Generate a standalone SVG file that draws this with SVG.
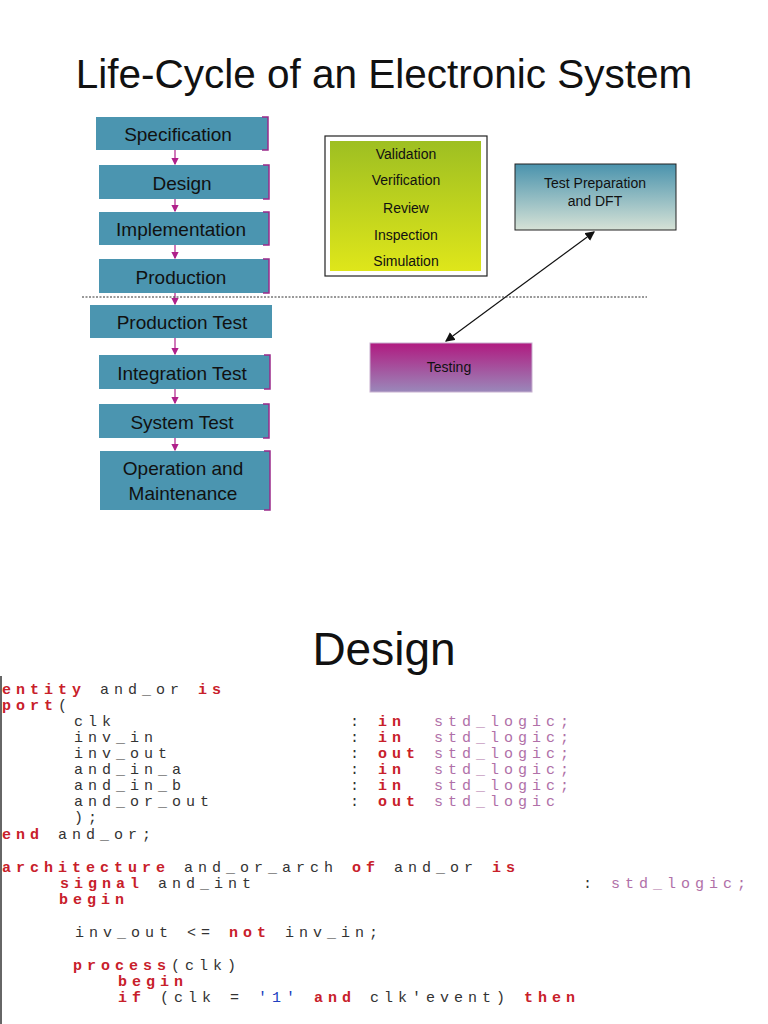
<svg xmlns="http://www.w3.org/2000/svg" width="768" height="1024" viewBox="0 0 768 1024">
<defs>
<style>
.t{font-family:"Liberation Sans",Arial,sans-serif;fill:#111}
.nb{fill:#4b95b0}
.br{fill:none;stroke:#9a2a8a;stroke-width:1.5}
.cn{stroke:#b0208a;stroke-width:1.2;fill:none}
.c{font-family:"Liberation Mono","Courier New",monospace;font-size:15px;letter-spacing:5px;fill:#333;white-space:pre}
.k{fill:#c8202a;font-weight:bold}
.p{fill:#b070a8}
</style>
<marker id="pa" markerWidth="6" markerHeight="6" refX="5" refY="3" orient="auto"><path d="M0,0L6,3L0,6z" fill="#b0208a"/></marker>
<marker id="ba" markerWidth="8" markerHeight="8" refX="7" refY="4" orient="auto-start-reverse"><path d="M0,0L8,4L0,8z" fill="#111"/></marker>
<linearGradient id="gg" x1="0" y1="0" x2="0" y2="1"><stop offset="0" stop-color="#9ebf22"/><stop offset="1" stop-color="#dfe61a"/></linearGradient>
<linearGradient id="gb" x1="0" y1="0" x2="0" y2="1"><stop offset="0" stop-color="#4a93ad"/><stop offset="1" stop-color="#d6e2d6"/></linearGradient>
<linearGradient id="gp" x1="0" y1="0" x2="0" y2="1"><stop offset="0" stop-color="#b01a80"/><stop offset="1" stop-color="#9a88ba"/></linearGradient>
</defs>
<rect width="768" height="1024" fill="#fff"/>
<text class="t" x="384" y="88" font-size="40.5" text-anchor="middle">Life-Cycle of an Electronic System</text>
<g id="n-spec"><rect class="nb" x="96" y="117" width="172" height="33"/><path class="br" d="M262,117H268V150H262"/><text class="t" x="178" y="141" font-size="19" text-anchor="middle">Specification</text></g>
<g id="n-design"><rect class="nb" x="99" y="165" width="170" height="34"/><path class="br" d="M263,165H269V199H263"/><text class="t" x="182" y="190" font-size="19" text-anchor="middle">Design</text></g>
<g id="n-impl"><rect class="nb" x="99" y="212" width="170" height="33"/><path class="br" d="M263,212H269V245H263"/><text class="t" x="181" y="236" font-size="19" text-anchor="middle">Implementation</text></g>
<g id="n-prod"><rect class="nb" x="99" y="259" width="170" height="34"/><path class="br" d="M263,259H269V293H263"/><text class="t" x="181" y="284" font-size="19" text-anchor="middle">Production</text></g>
<g id="n-prodtest"><rect class="nb" x="90" y="305" width="182" height="33"/><text class="t" x="182" y="329" font-size="19" text-anchor="middle">Production Test</text></g>
<g id="n-integ"><rect class="nb" x="99" y="355" width="171" height="34"/><path class="br" d="M264,355H270V389H264"/><text class="t" x="182" y="380" font-size="19" text-anchor="middle">Integration Test</text></g>
<g id="n-sys"><rect class="nb" x="99" y="404" width="170" height="34"/><path class="br" d="M263,404H269V438H263"/><text class="t" x="182" y="429" font-size="19" text-anchor="middle">System Test</text></g>
<g id="n-op"><rect class="nb" x="100" y="451" width="170" height="59"/><path class="br" d="M264,451H270V510H264"/><text class="t" x="183" y="475" font-size="19" text-anchor="middle">Operation and</text><text class="t" x="183" y="500" font-size="19" text-anchor="middle">Maintenance</text></g>
<g id="n-valid"><rect x="325" y="136" width="162" height="140" fill="#fff" stroke="#222" stroke-width="1.2"/><rect x="330" y="141" width="151" height="130" fill="url(#gg)"/>
<text class="t" x="406" y="159" font-size="14" text-anchor="middle">Validation</text>
<text class="t" x="406" y="185" font-size="14" text-anchor="middle">Verification</text>
<text class="t" x="406" y="213" font-size="14" text-anchor="middle">Review</text>
<text class="t" x="406" y="240" font-size="14" text-anchor="middle">Inspection</text>
<text class="t" x="406" y="266" font-size="14" text-anchor="middle">Simulation</text></g>
<g id="n-tp"><rect x="515" y="164" width="161" height="66" fill="url(#gb)" stroke="#222" stroke-width="1"/><text class="t" x="595" y="188" font-size="14" text-anchor="middle">Test Preparation</text><text class="t" x="595" y="206" font-size="14" text-anchor="middle">and DFT</text></g>
<g id="n-test"><rect x="370" y="343" width="162" height="49" fill="url(#gp)" stroke="#c8b0d0" stroke-width="1"/><text class="t" x="449" y="372" font-size="14" text-anchor="middle">Testing</text></g>
<g id="connectors">
<line class="cn" x1="175" y1="150" x2="175" y2="164" marker-end="url(#pa)"/>
<line class="cn" x1="175" y1="199" x2="175" y2="211" marker-end="url(#pa)"/>
<line class="cn" x1="175" y1="245" x2="175" y2="258" marker-end="url(#pa)"/>
<line class="cn" x1="175" y1="293" x2="175" y2="304" marker-end="url(#pa)"/>
<line class="cn" x1="175" y1="338" x2="175" y2="354" marker-end="url(#pa)"/>
<line class="cn" x1="175" y1="389" x2="175" y2="403" marker-end="url(#pa)"/>
<line class="cn" x1="175" y1="438" x2="175" y2="450" marker-end="url(#pa)"/>
<line x1="446" y1="341" x2="594" y2="232" stroke="#111" stroke-width="1.2" marker-start="url(#ba)" marker-end="url(#ba)"/>
<line x1="82" y1="297" x2="647" y2="297" stroke="#333" stroke-width="1" stroke-dasharray="2,1.5"/>
</g>
<text class="t" x="384" y="665" font-size="46" text-anchor="middle">Design</text>
<line x1="1" y1="676" x2="1" y2="1024" stroke="#333" stroke-width="1.5"/>
<g id="code">
<text class="c" x="2" y="694"><tspan class="k">entity</tspan> and_or <tspan class="k">is</tspan></text>
<text class="c" x="2" y="710"><tspan class="k">port</tspan>(</text>
<text class="c" x="74" y="726">clk</text><text class="c" x="350" y="726">: <tspan class="k">in</tspan>  <tspan class="p">std_logic;</tspan></text>
<text class="c" x="74" y="742">inv_in</text><text class="c" x="350" y="742">: <tspan class="k">in</tspan>  <tspan class="p">std_logic;</tspan></text>
<text class="c" x="74" y="758">inv_out</text><text class="c" x="350" y="758">: <tspan class="k">out</tspan> <tspan class="p">std_logic;</tspan></text>
<text class="c" x="74" y="774">and_in_a</text><text class="c" x="350" y="774">: <tspan class="k">in</tspan>  <tspan class="p">std_logic;</tspan></text>
<text class="c" x="74" y="790">and_in_b</text><text class="c" x="350" y="790">: <tspan class="k">in</tspan>  <tspan class="p">std_logic;</tspan></text>
<text class="c" x="74" y="806">and_or_out</text><text class="c" x="350" y="806">: <tspan class="k">out</tspan> <tspan class="p">std_logic</tspan></text>
<text class="c" x="74" y="822">);</text>
<text class="c" x="2" y="839"><tspan class="k">end</tspan> and_or;</text>
<text class="c" x="2" y="872"><tspan class="k">architecture</tspan> and_or_arch <tspan class="k">of</tspan> and_or <tspan class="k">is</tspan></text>
<text class="c" x="60" y="888"><tspan class="k">signal</tspan> and_int</text><text class="c" x="583" y="888">: <tspan class="p">std_logic;</tspan></text>
<text class="c" x="59" y="904"><tspan class="k">begin</tspan></text>
<text class="c" x="75" y="937">inv_out &lt;= <tspan class="k">not</tspan> inv_in;</text>
<text class="c" x="73" y="970"><tspan class="k">process</tspan>(clk)</text>
<text class="c" x="118" y="986"><tspan class="k">begin</tspan></text>
<text class="c" x="118" y="1002"><tspan class="k">if</tspan> (clk = <tspan fill="#2040c0">'1'</tspan> <tspan class="k">and</tspan> clk'event) <tspan class="k">then</tspan></text>
</g>
</svg>
